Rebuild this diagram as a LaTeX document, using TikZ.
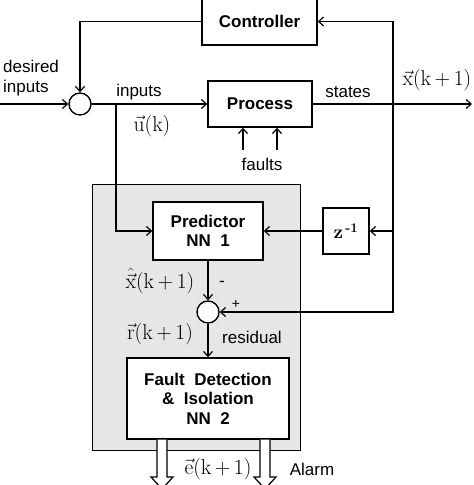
\documentclass[tikz,border=0pt]{standalone}
\usepackage[no-math]{fontspec}
\setmainfont{Liberation Sans}
\newfontfamily\lmr{Latin Modern Roman}
\usetikzlibrary{arrows.meta}
\definecolor{panel}{HTML}{E6E6E6}
\newcommand{\vv}[1]{$\vec{\hbox{#1}}$}
\begin{document}
\begin{tikzpicture}[x=1pt,y=-1pt,
  every node/.style={font=\fontsize{17}{19.5}\selectfont},
  blk/.style={draw,line width=1.4pt,fill=white,inner sep=0pt,align=center,font=\fontsize{17}{19.5}\selectfont\bfseries},
  sumc/.style={draw,circle,line width=1.4pt,fill=white,inner sep=0pt,minimum size=22pt},
  wire/.style={line width=1.3pt},
  arr/.style={wire,-{Straight Barb[length=5pt,width=9pt,line width=1.2pt]}},
  mlab/.style={font=\fontsize{21.5}{23}\selectfont\lmr,inner sep=0pt},
  fat/.style={line width=1.2pt,fill=white}]
\useasboundingbox (0,0) rectangle (474,485);
% background panel
\draw[line width=1pt,fill=panel] (92,184) rectangle (300,450);
% blocks
\node[blk,minimum width=115pt,minimum height=47pt] (ctrl) at (259.5,21.5) {Controller};
\node[blk,minimum width=104pt,minimum height=46pt] (proc) at (260,104) {Process};
\node[blk,minimum width=110pt,minimum height=58pt] (pred) at (208,231) {Predictor\\NN\ \ 1};
\node[blk,minimum width=46pt,minimum height=46pt,font=\fontsize{19}{20}\selectfont\lmr\bfseries] (zdel) at (346,231) {z\textsuperscript{\,-1}};
\node[blk,minimum width=162pt,minimum height=81pt] (fdi) at (208,398.5) {Fault\ \ Detection\\\&\ \ Isolation\\NN\ \ 2};
\node[sumc] (s1) at (80,104) {};
\node[sumc] (s2) at (208,312) {};
% coordinates
\coordinate (din) at (0,104);
\coordinate (br) at (116,104);
\coordinate (jn) at (393,104);
\coordinate (xout) at (472,104);
\coordinate (f1) at (243,150);
\coordinate (f2) at (277,150);
% connectors
\draw[arr] (ctrl.west) -| (s1.north);
\draw[arr] (din) -- (s1.west);
\draw[arr] (s1.east) -- (proc.west);
\draw[arr] (br) |- (pred.west);
\draw[arr] (proc.east) -- (xout);
\draw[arr] (jn) |- (ctrl.east);
\draw[arr] (jn) |- (s2.east);
\draw[arr] (jn |- zdel.east) -- (zdel.east);
\draw[arr] (zdel.west) -- (pred.east);
\draw[arr] (pred.south) -- (s2.north);
\draw[arr] (s2.south) -- (fdi.north);
\draw[arr] (f1) -- (f1 |- proc.south);
\draw[arr] (f2) -- (f2 |- proc.south);
% hollow output arrows
\draw[fat] (157,439.5) -- (157,477) -- (151,477) -- (162,489) -- (173,477) -- (167,477) -- (167,439.5);
\draw[fat] (260,439.5) -- (260,477) -- (254,477) -- (265,489) -- (276,477) -- (270,477) -- (270,439.5);
% labels
\node[align=left,anchor=west,inner sep=0pt] (ldes) at (3,78) {desired\\inputs};
\node (linp) at (139,92) {inputs};
\node[mlab] (lu) at (152,126) {\vv{u}(k)};
\node (lst) at (348,92) {states};
\node[mlab] (lx) at (437,80) {\vv{x}(k\,+\,1)};
\node (lf) at (262,164) {faults};
\node[mlab] (lxh) at (160,281) {$\hat{\vec{\hbox{x}}}$(k\,+\,1)};
\node (lminus) at (222,284) {-};
\node[font=\fontsize{14}{16}\selectfont] (lplus) at (236,304) {+};
\node[mlab] (lr) at (160,334) {\vv{r}(k\,+\,1)};
\node (lres) at (252,337) {residual};
\node[mlab] (le) at (218,469) {\vv{e}(k\,+\,1)};
\node (lal) at (312,469) {Alarm};
\end{tikzpicture}
\end{document}
